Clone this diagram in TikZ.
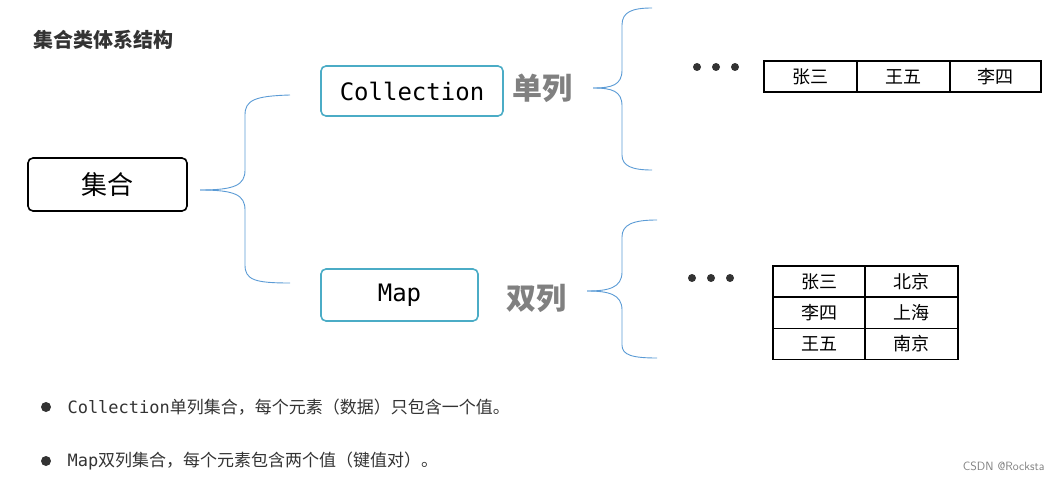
\documentclass[tikz,border=0pt]{standalone}
\usepackage{fontspec}
\setmonofont{DejaVu Sans Mono}
\newfontfamily\cjk{Noto Sans CJK SC}
\definecolor{bl}{RGB}{91,155,213}
\definecolor{teal}{RGB}{75,172,198}
\definecolor{gr}{RGB}{128,128,128}
\tikzset{
 rbox/.style={draw,rounded corners=5pt,line width=1.6pt,inner sep=0pt},
 brace/.style={draw=bl,line width=0.9pt},
 cell/.style={draw,line width=1.3pt,minimum height=31pt,inner sep=0pt,font=\cjk\fontsize{18}{18}\selectfont},
 big/.style={text=gr,font=\cjk\bfseries\fontsize{30}{30}\selectfont},
 bul/.style={anchor=west,font=\fontsize{17}{17}\selectfont,text=black!80}
}
\begin{document}
\begin{tikzpicture}[x=1pt,y=-1pt]
\useasboundingbox (0,0) rectangle (1062,481);
\node[anchor=west,font=\cjk\bfseries\fontsize{20}{20}\selectfont,text=black!80] (title) at (30,40) {集合类体系结构};
\node[rbox,minimum width=159pt,minimum height=53pt,font=\cjk\fontsize{26}{26}\selectfont] (jh) at (107.5,184.5) {集合};
\node[rbox,draw=teal,minimum width=182pt,minimum height=50pt,font=\ttfamily\fontsize{24}{24}\selectfont] (coll) at (412,91) {Collection};
\node[rbox,draw=teal,minimum width=157pt,minimum height=52pt,font=\ttfamily\fontsize{24}{24}\selectfont] (map) at (399.5,295) {Map};
\node[big] (dl) at (542,88) {单列};
\node[big] (sl) at (536,298) {双列};
% braces
\draw[brace] (200,190) .. controls (235,190) and (245,185) .. (245,170) -- (245,115) .. controls (245,100) and (255,96) .. (290,95);
\draw[brace] (200,190) .. controls (235,190) and (245,195) .. (245,210) -- (245,265) .. controls (245,280) and (255,283) .. (290,283);
\draw[brace] (593,88) .. controls (612,88) and (622,85) .. (622,70) -- (622,25) .. controls (622,12) and (632,8) .. (652,8);
\draw[brace] (593,88) .. controls (612,88) and (622,91) .. (622,106) -- (622,155) .. controls (622,166) and (632,170) .. (652,170);
\draw[brace] (587,291) .. controls (608,291) and (622,288) .. (622,272) -- (622,237) .. controls (622,225) and (632,220) .. (657,220);
\draw[brace] (587,291) .. controls (608,291) and (622,294) .. (622,310) -- (622,345) .. controls (622,355) and (632,358) .. (657,358);
% dots
\foreach \i/\x/\y in {1/697/67,2/716/67,3/735/67,4/692/278,5/711/278,6/730/278}
  \fill[black!80] (\x,\y) circle (4pt);
% table 1
\node[cell,minimum width=93pt] (a1) at (810.5,76.5) {张三};
\node[cell,minimum width=93pt] (a2) at (903.5,76.5) {王五};
\node[cell,minimum width=91pt] (a3) at (995.5,76.5) {李四};
% table 2
\foreach \r/\a/\b in {0/张三/北京,1/李四/上海,2/王五/南京}{
 \node[cell,minimum width=92pt] (l\r) at (819,281.5+31.3*\r) {\a};
 \node[cell,minimum width=93pt] (r\r) at (911.5,281.5+31.3*\r) {\b};
}
% bullets
\fill[black!80] (46,407) circle (5pt);
\fill[black!80] (46,461) circle (5pt);
\node[bul] (b1) at (64,407) {{\ttfamily Collection}{\cjk 单列集合，每个元素（数据）只包含一个值。}};
\node[bul] (b2) at (64,461) {{\ttfamily Map}{\cjk 双列集合，每个元素包含两个值（键值对）。}};
\node[anchor=east,font=\fontsize{12}{12}\selectfont\sffamily,text=gr] (wm) at (1048,466) {CSDN @Rocksta};
\end{tikzpicture}
\end{document}
